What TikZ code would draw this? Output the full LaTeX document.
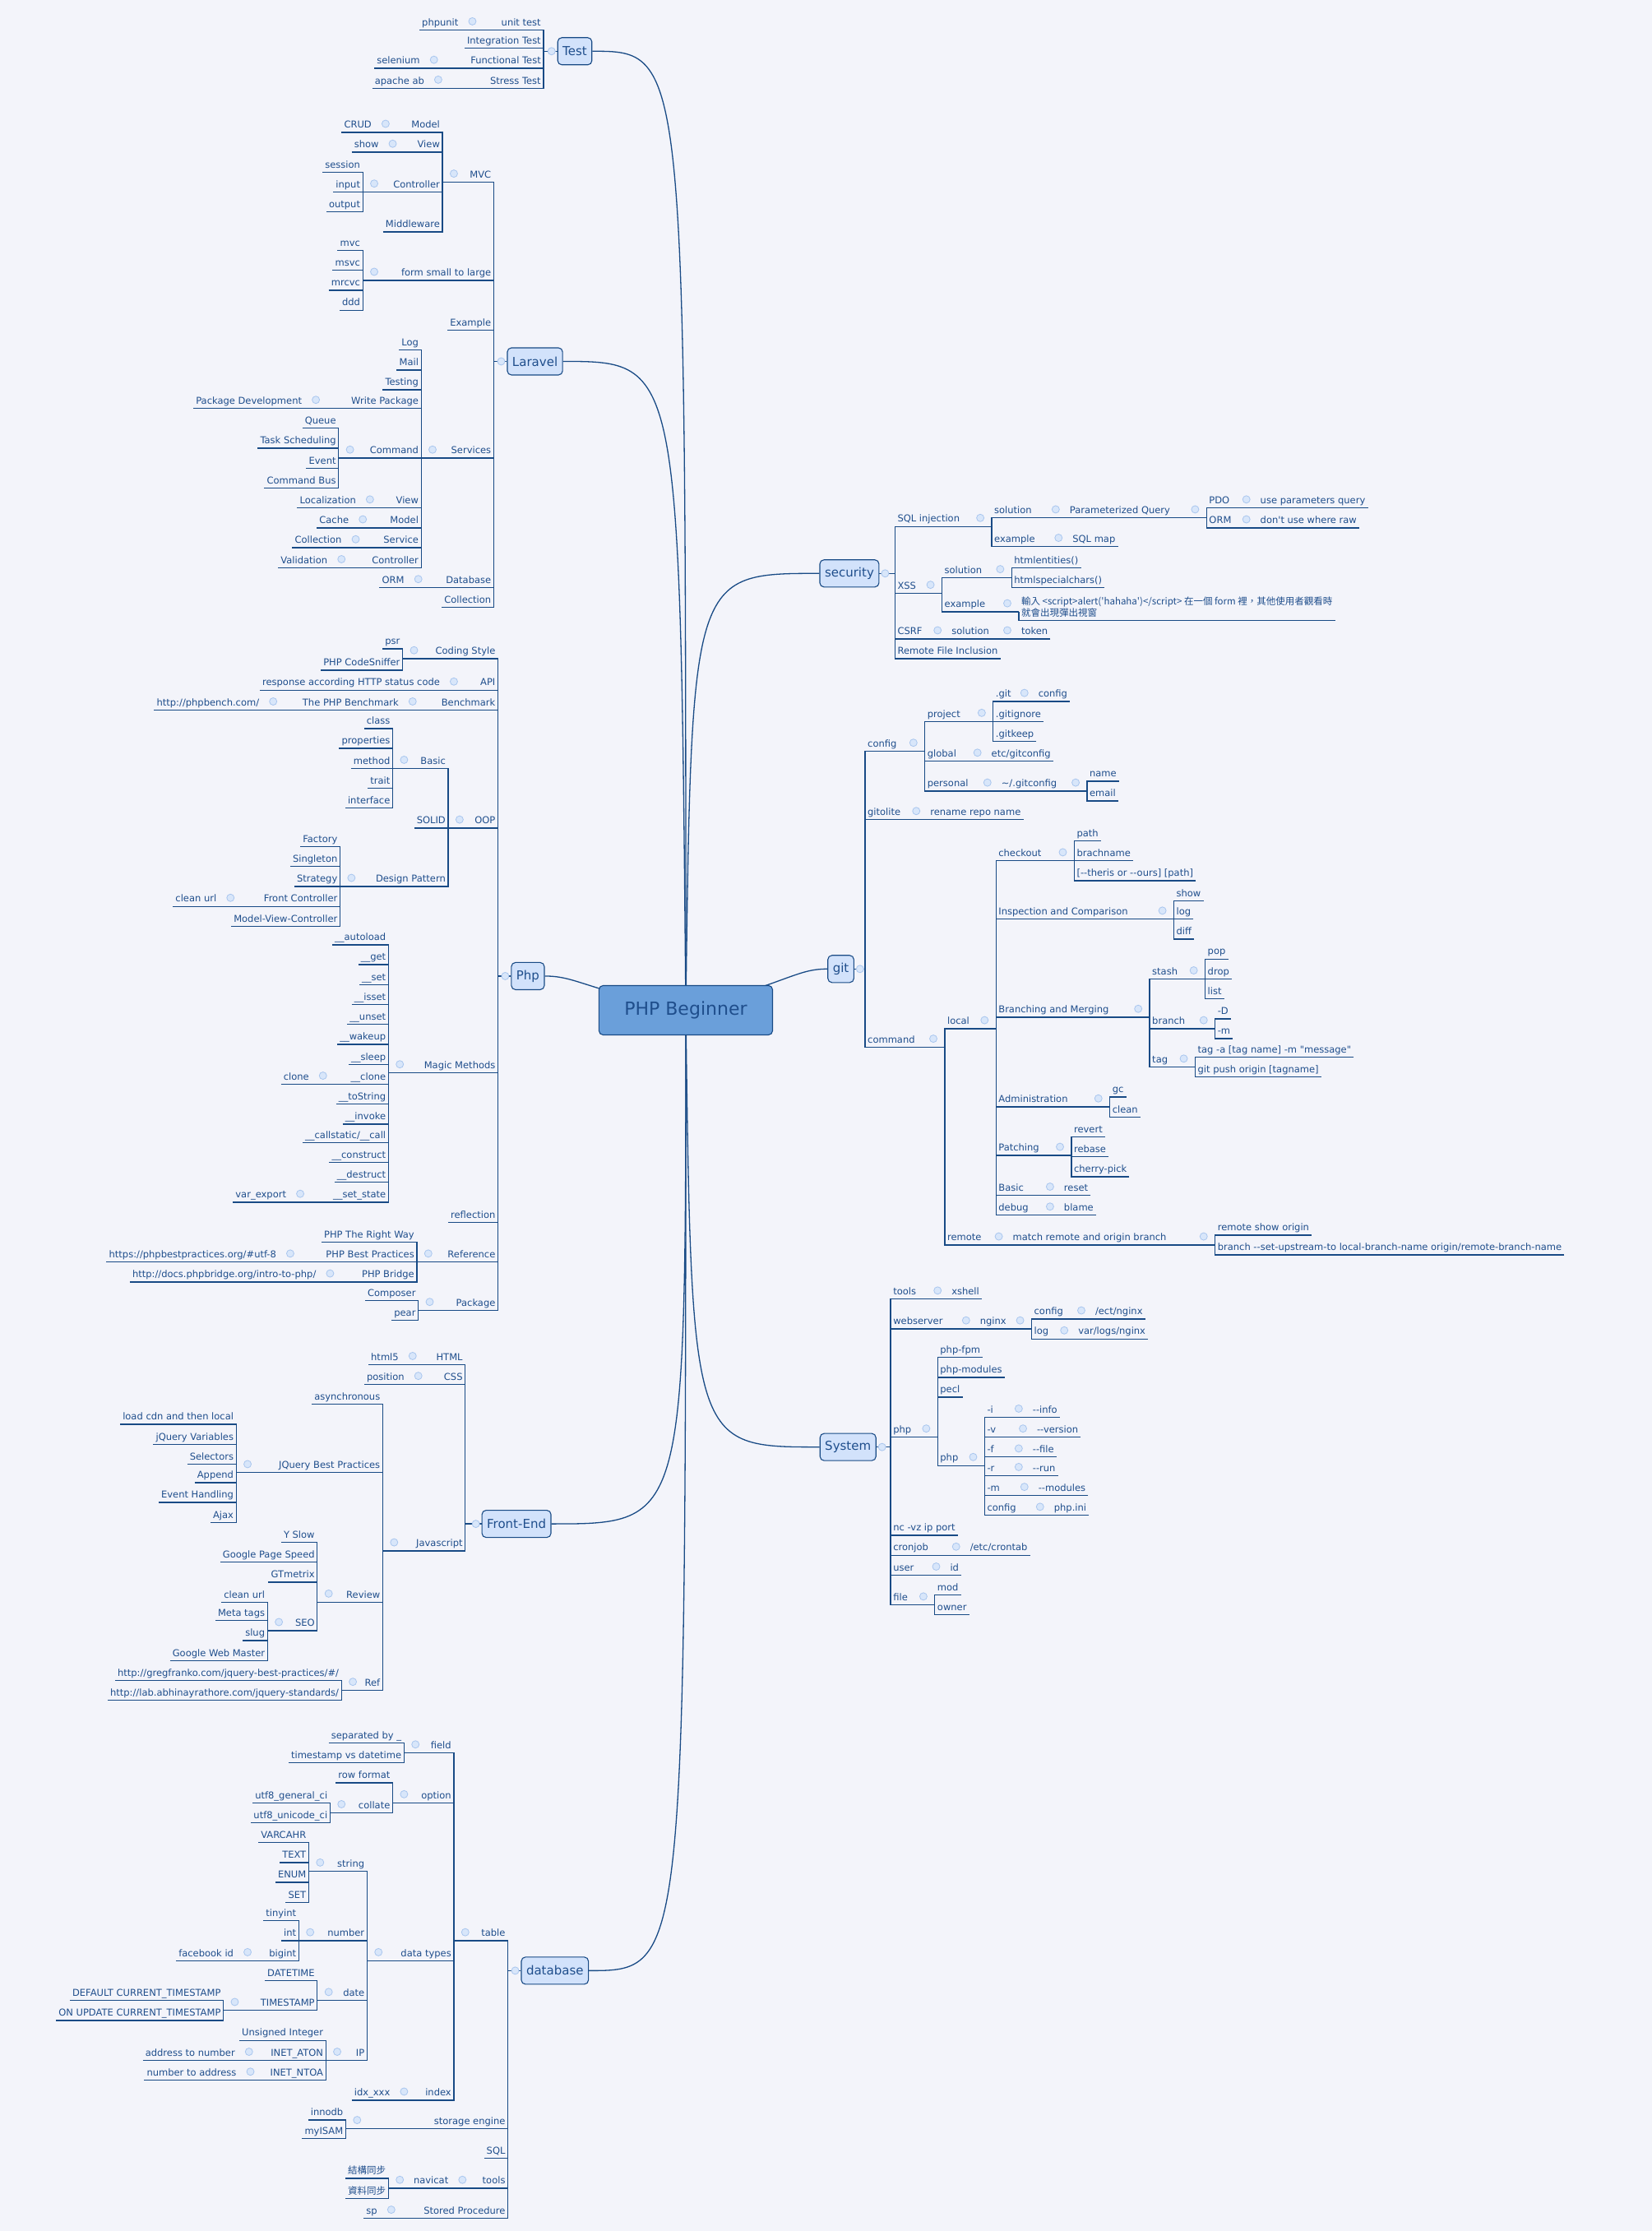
\documentclass[tikz,border=0pt]{standalone}
\usepackage{fontspec}
\newfontfamily\djv{DejaVu Sans}
\newfontfamily\cjk{Noto Sans CJK TC}
\definecolor{lc}{HTML}{184A85}
\definecolor{tx}{HTML}{1F4E8C}
\definecolor{bg}{HTML}{F3F4FA}
\definecolor{bf}{HTML}{D2E2FB}
\definecolor{cf}{HTML}{6A9FDA}
\definecolor{kf}{HTML}{D8E6FA}
\definecolor{kd}{HTML}{A9C6EE}
\tikzset{
 ln/.style={draw=lc,line width=1.3pt},
 leaf/.style={font=\djv\fontsize{11.5}{14}\selectfont,text=tx,inner xsep=3pt,inner ysep=0pt,text height=9pt,text depth=5pt},
 circ/.style={circle,draw=kd,fill=kf,minimum size=9pt,inner sep=0pt,line width=0.8pt},
 br/.style={draw=lc,fill=bf,rounded corners=5pt,line width=1.1pt,font=\djv\fontsize{15}{17}\selectfont,text=tx,minimum height=33pt,inner xsep=6pt},
}
\newcommand\LN[5]{%
 \edef\px{\csname xs@#2\endcsname}%
 \node[leaf,anchor=south east] (#1) at (\px,#3+6) {#5};
 \draw[ln] (#1.south west) -- (#1.south east) -- (#2-s);
 \if\relax\detokenize{#4}\relax\else
  \expandafter\gdef\csname xs@#1\endcsname{#4}%
  \coordinate (#1-s) at (#4,#3+6);
  \draw[ln] (#1-s) -- (#1.south east);
  \node[circ] at (#4+8,#3) {};
 \fi}
\newcommand\RN[5]{%
 \edef\px{\csname xs@#2\endcsname}%
 \node[leaf,anchor=south west,align=left] (#1) at (\px,#3+6) {#5};
 \draw[ln] (#1.south east) -- (#1.south west) -- (#2-s);
 \if\relax\detokenize{#4}\relax\else
  \expandafter\gdef\csname xs@#1\endcsname{#4}%
  \coordinate (#1-s) at (#4,#3+6);
  \draw[ln] (#1-s) -- (#1.south west);
  \node[circ] at (#4-8,#3) {};
 \fi}
\newcommand\BL[5]{%
 \node[br] (#1) at (#2,#3) {#5};
 \expandafter\gdef\csname xs@#1\endcsname{#4}%
 \coordinate (#1-s) at (#4,#3);
 \draw[ln] (#1-s) -- (#1.west);
 \node[circ] at ($(#1.west)+(-4,0)$) {};}
\newcommand\BR[5]{%
 \node[br] (#1) at (#2,#3) {#5};
 \expandafter\gdef\csname xs@#1\endcsname{#4}%
 \coordinate (#1-s) at (#4,#3);
 \draw[ln] (#1-s) -- (#1.east);
 \node[circ] at ($(#1.east)+(4,0)$) {};}
\usetikzlibrary{calc}
\begin{document}
\begin{tikzpicture}[x=1.7295pt,y=-1.7295pt]
\fill[bg] (0,0) rectangle (1161,1568);
\useasboundingbox (0,0) rectangle (1161,1568);
\BL{te}{404}{36}{382}{Test}
\BL{la}{376}{254}{347}{Laravel}
\BL{ph}{371}{686}{350}{Php}
\BL{fe}{363}{1071}{327}{Front-End}
\BL{db}{390}{1385}{357}{database}
\BR{se}{597}{403}{629}{security}
\BR{gi}{591}{681}{608}{git}
\BR{sy}{596}{1017}{626}{System}
\coordinate (c0) at (482,710);
\draw[ln] (c0) .. controls (482,36) .. (te.east);
\draw[ln] (c0) .. controls (478,254) .. (la.east);
\draw[ln] (c0) .. controls (482,1071) .. (fe.east);
\draw[ln] (c0) .. controls (482,1385) .. (db.east);
\draw[ln] (c0) .. controls (486,403) .. (se.west);
\draw[ln] (c0) .. controls (486,1017) .. (sy.west);
\draw[ln] (c0) .. controls (410,695) and (405,686) .. (ph.east);
\draw[ln] (c0) .. controls (555,690) and (560,681) .. (gi.west);
\node[draw=lc,fill=cf,rounded corners=5pt,line width=1.1pt,minimum width=211pt,minimum height=60pt,font=\djv\fontsize{22}{24}\selectfont,text=tx] (center) at (482,710) {PHP Beginner};
% Test
\LN{te1}{te}{15}{324}{unit test}
\LN{te1a}{te1}{15}{}{phpunit}
\LN{te2}{te}{28}{}{Integration Test}
\LN{te3}{te}{42}{297}{Functional Test}
\LN{te3a}{te3}{42}{}{selenium}
\LN{te4}{te}{56}{300}{Stress Test}
\LN{te4a}{te4}{56}{}{apache ab}
% Laravel
\LN{la1}{la}{122}{311}{MVC}
\LN{la11}{la1}{87}{263}{Model}
\LN{la111}{la11}{87}{}{CRUD}
\LN{la12}{la1}{101}{268}{View}
\LN{la121}{la12}{101}{}{show}
\LN{la13}{la1}{129}{255}{Controller}
\LN{la131}{la13}{115}{}{session}
\LN{la132}{la13}{129}{}{input}
\LN{la133}{la13}{143}{}{output}
\LN{la14}{la1}{157}{}{Middleware}
\LN{la2}{la}{191}{255}{form small to large}
\LN{la21}{la2}{170}{}{mvc}
\LN{la22}{la2}{184}{}{msvc}
\LN{la23}{la2}{198}{}{mrcvc}
\LN{la24}{la2}{212}{}{ddd}
\LN{la3}{la}{226}{}{Example}
\LN{la4}{la}{316}{296}{Services}
\LN{la41}{la4}{240}{}{Log}
\LN{la42}{la4}{254}{}{Mail}
\LN{la43}{la4}{268}{}{Testing}
\LN{la44}{la4}{281}{214}{Write Package}
\LN{la441}{la44}{281}{}{Package Development}
\LN{la45}{la4}{316}{238}{Command}
\LN{la451}{la45}{295}{}{Queue}
\LN{la452}{la45}{309}{}{Task Scheduling}
\LN{la453}{la45}{323}{}{Event}
\LN{la454}{la45}{337}{}{Command Bus}
\LN{la46}{la4}{351}{252}{View}
\LN{la461}{la46}{351}{}{Localization}
\LN{la47}{la4}{365}{247}{Model}
\LN{la471}{la47}{365}{}{Cache}
\LN{la48}{la4}{379}{242}{Service}
\LN{la481}{la48}{379}{}{Collection}
\LN{la49}{la4}{393}{232}{Controller}
\LN{la491}{la49}{393}{}{Validation}
\LN{la5}{la}{407}{286}{Database}
\LN{la51}{la5}{407}{}{ORM}
\LN{la6}{la}{421}{}{Collection}
% Php
\LN{ph1}{ph}{457}{283}{Coding Style}
\LN{ph11}{ph1}{450}{}{psr}
\LN{ph12}{ph1}{465}{}{PHP CodeSniffer}
\LN{ph2}{ph}{479}{311}{API}
\LN{ph21}{ph2}{479}{}{response according HTTP status code}
\LN{ph3}{ph}{493}{282}{Benchmark}
\LN{ph31}{ph3}{493}{184}{The PHP Benchmark}
\LN{ph311}{ph31}{493}{}{http://phpbench.com/}
\LN{ph4}{ph}{576}{315}{OOP}
\LN{ph41}{ph4}{534}{276}{Basic}
\LN{ph411}{ph41}{506}{}{class}
\LN{ph412}{ph41}{520}{}{properties}
\LN{ph413}{ph41}{534}{}{method}
\LN{ph414}{ph41}{548}{}{trait}
\LN{ph415}{ph41}{562}{}{interface}
\LN{ph42}{ph4}{576}{}{SOLID}
\LN{ph43}{ph4}{617}{239}{Design Pattern}
\LN{ph431}{ph43}{589}{}{Factory}
\LN{ph432}{ph43}{603}{}{Singleton}
\LN{ph433}{ph43}{617}{}{Strategy}
\LN{ph434}{ph43}{631}{154}{Front Controller}
\LN{ph4341}{ph434}{631}{}{clean url}
\LN{ph435}{ph43}{645}{}{Model-View-Controller}
\LN{ph5}{ph}{748}{273}{Magic Methods}
\LN{ph51}{ph5}{658}{}{\_\_autoload}
\LN{ph52}{ph5}{672}{}{\_\_get}
\LN{ph53}{ph5}{686}{}{\_\_set}
\LN{ph54}{ph5}{700}{}{\_\_isset}
\LN{ph55}{ph5}{714}{}{\_\_unset}
\LN{ph56}{ph5}{728}{}{\_\_wakeup}
\LN{ph57}{ph5}{742}{}{\_\_sleep}
\LN{ph58}{ph5}{756}{219}{\_\_clone}
\LN{ph581}{ph58}{756}{}{clone}
\LN{ph59}{ph5}{770}{}{\_\_toString}
\LN{ph510}{ph5}{784}{}{\_\_invoke}
\LN{ph511}{ph5}{797}{}{\_\_callstatic/\_\_call}
\LN{ph512}{ph5}{811}{}{\_\_construct}
\LN{ph513}{ph5}{825}{}{\_\_destruct}
\LN{ph514}{ph5}{839}{203}{\_\_set\_state}
\LN{ph5141}{ph514}{839}{}{var\_export}
\LN{ph6}{ph}{853}{}{reflection}
\LN{ph7}{ph}{881}{293}{Reference}
\LN{ph71}{ph7}{867}{}{PHP The Right Way}
\LN{ph72}{ph7}{881}{196}{PHP Best Practices}
\LN{ph721}{ph72}{881}{}{https://phpbestpractices.org/\#utf-8}
\LN{ph73}{ph7}{895}{224}{PHP Bridge}
\LN{ph731}{ph73}{895}{}{http://docs.phpbridge.org/intro-to-php/}
\LN{ph8}{ph}{915}{294}{Package}
\LN{ph81}{ph8}{908}{}{Composer}
\LN{ph82}{ph8}{922}{}{pear}
% Front-End
\LN{fe1}{fe}{953}{282}{HTML}
\LN{fe11}{fe1}{953}{}{html5}
\LN{fe2}{fe}{967}{286}{CSS}
\LN{fe21}{fe2}{967}{}{position}
\LN{fe3}{fe}{1084}{269}{Javascript}
\LN{fe31}{fe3}{981}{}{asynchronous}
\LN{fe32}{fe3}{1029}{166}{JQuery Best Practices}
\LN{fe321}{fe32}{995}{}{load cdn and then local}
\LN{fe322}{fe32}{1009}{}{jQuery Variables}
\LN{fe323}{fe32}{1023}{}{Selectors}
\LN{fe324}{fe32}{1036}{}{Append}
\LN{fe325}{fe32}{1050}{}{Event Handling}
\LN{fe326}{fe32}{1064}{}{Ajax}
\LN{fe33}{fe3}{1120}{223}{Review}
\LN{fe331}{fe33}{1078}{}{Y Slow}
\LN{fe332}{fe33}{1092}{}{Google Page Speed}
\LN{fe333}{fe33}{1106}{}{GTmetrix}
\LN{fe334}{fe33}{1140}{188}{SEO}
\LN{fe3341}{fe334}{1120}{}{clean url}
\LN{fe3342}{fe334}{1133}{}{Meta tags}
\LN{fe3343}{fe334}{1147}{}{slug}
\LN{fe3344}{fe334}{1161}{}{Google Web Master}
\LN{fe34}{fe3}{1182}{240}{Ref}
\LN{fe341}{fe34}{1175}{}{http://gregfranko.com/jquery-best-practices/\#/}
\LN{fe342}{fe34}{1189}{}{http://lab.abhinayrathore.com/jquery-standards/}
% database
\LN{db1}{db}{1358}{319}{table}
\LN{db11}{db1}{1226}{284}{field}
\LN{db111}{db11}{1219}{}{separated by \_}
\LN{db112}{db11}{1233}{}{timestamp vs datetime}
\LN{db12}{db1}{1261}{276}{option}
\LN{db121}{db12}{1247}{}{row format}
\LN{db122}{db12}{1268}{232}{collate}
\LN{db1221}{db122}{1261}{}{utf8\_general\_ci}
\LN{db1222}{db122}{1275}{}{utf8\_unicode\_ci}
\LN{db13}{db1}{1372}{258}{data types}
\LN{db131}{db13}{1309}{217}{string}
\LN{db1311}{db131}{1289}{}{VARCAHR}
\LN{db1312}{db131}{1303}{}{TEXT}
\LN{db1313}{db131}{1317}{}{ENUM}
\LN{db1314}{db131}{1331}{}{SET}
\LN{db132}{db13}{1358}{210}{number}
\LN{db1321}{db132}{1344}{}{tinyint}
\LN{db1322}{db132}{1358}{}{int}
\LN{db1323}{db132}{1372}{166}{bigint}
\LN{db13231}{db1323}{1372}{}{facebook id}
\LN{db133}{db13}{1400}{223}{date}
\LN{db1331}{db133}{1386}{}{DATETIME}
\LN{db1332}{db133}{1407}{157}{TIMESTAMP}
\LN{db13321}{db1332}{1400}{}{DEFAULT CURRENT\_TIMESTAMP}
\LN{db13322}{db1332}{1414}{}{ON UPDATE CURRENT\_TIMESTAMP}
\LN{db134}{db13}{1442}{229}{IP}
\LN{db1341}{db134}{1428}{}{Unsigned Integer}
\LN{db1342}{db134}{1442}{167}{INET\_ATON}
\LN{db13421}{db1342}{1442}{}{address to number}
\LN{db1343}{db134}{1456}{168}{INET\_NTOA}
\LN{db13431}{db1343}{1456}{}{number to address}
\LN{db14}{db1}{1470}{276}{index}
\LN{db141}{db14}{1470}{}{idx\_xxx}
\LN{db2}{db}{1490}{243}{storage engine}
\LN{db21}{db2}{1484}{}{innodb}
\LN{db22}{db2}{1497}{}{myISAM}
\LN{db3}{db}{1511}{}{SQL}
\LN{db4}{db}{1532}{317}{tools}
\LN{db41}{db4}{1532}{273}{navicat}
\LN{db411}{db41}{1525}{}{\cjk 結構同步}
\LN{db412}{db41}{1539}{}{\cjk 資料同步}
\LN{db5}{db}{1553}{267}{Stored Procedure}
\LN{db51}{db5}{1553}{}{sp}
% security
\RN{se1}{se}{364}{697}{SQL injection}
\RN{se11}{se1}{358}{750}{solution}
\RN{se111}{se11}{358}{848}{Parameterized Query}
\RN{se1111}{se111}{351}{884}{PDO}
\RN{se11111}{se1111}{351}{}{use parameters query}
\RN{se1112}{se111}{365}{884}{ORM}
\RN{se11121}{se1112}{365}{}{don't use where raw}
\RN{se12}{se1}{378}{752}{example}
\RN{se121}{se12}{378}{}{SQL map}
\RN{se2}{se}{411}{662}{XSS}
\RN{se21}{se2}{400}{711}{solution}
\RN{se211}{se21}{393}{}{htmlentities()}
\RN{se212}{se21}{407}{}{htmlspecialchars()}
\RN{se22}{se2}{424}{716}{example}
\RN{se221}{se22}{430}{}{\cjk 輸入 <script>alert('hahaha')</script> 在一個 form 裡，其他使用者觀看時\\\cjk 就會出現彈出視窗}
\RN{se3}{se}{443}{667}{CSRF}
\RN{se31}{se3}{443}{716}{solution}
\RN{se311}{se31}{443}{}{token}
\RN{se4}{se}{457}{}{Remote File Inclusion}
% git
\RN{gi1}{gi}{522}{650}{config}
\RN{gi11}{gi1}{501}{698}{project}
\RN{gi111}{gi11}{487}{728}{.git}
\RN{gi1111}{gi111}{487}{}{config}
\RN{gi112}{gi11}{501}{}{.gitignore}
\RN{gi113}{gi11}{515}{}{.gitkeep}
\RN{gi12}{gi1}{529}{695}{global}
\RN{gi121}{gi12}{529}{}{etc/gitconfig}
\RN{gi13}{gi1}{550}{702}{personal}
\RN{gi131}{gi13}{550}{764}{\textasciitilde/.gitconfig}
\RN{gi1311}{gi131}{543}{}{name}
\RN{gi1312}{gi131}{557}{}{email}
\RN{gi2}{gi}{570}{652}{gitolite}
\RN{gi21}{gi2}{570}{}{rename repo name}
\RN{gi3}{gi}{730}{664}{command}
\RN{gi31}{gi3}{717}{700}{local}
\RN{gi311}{gi31}{599}{755}{checkout}
\RN{gi3111}{gi311}{585}{}{path}
\RN{gi3112}{gi311}{599}{}{brachname}
\RN{gi3113}{gi311}{613}{}{[--theris or --ours] [path]}
\RN{gi312}{gi31}{640}{825}{Inspection and Comparison}
\RN{gi3121}{gi312}{627}{}{show}
\RN{gi3122}{gi312}{640}{}{log}
\RN{gi3123}{gi312}{654}{}{diff}
\RN{gi313}{gi31}{709}{808}{Branching and Merging}
\RN{gi3131}{gi313}{682}{847}{stash}
\RN{gi31311}{gi3131}{668}{}{pop}
\RN{gi31312}{gi3131}{682}{}{drop}
\RN{gi31313}{gi3131}{696}{}{list}
\RN{gi3132}{gi313}{717}{854}{branch}
\RN{gi31321}{gi3132}{710}{}{-D}
\RN{gi31322}{gi3132}{724}{}{-m}
\RN{gi3133}{gi313}{744}{840}{tag}
\RN{gi31331}{gi3133}{737}{}{tag -a [tag name] -m "message"}
\RN{gi31332}{gi3133}{751}{}{git push origin [tagname]}
\RN{gi314}{gi31}{772}{780}{Administration}
\RN{gi3141}{gi314}{765}{}{gc}
\RN{gi3142}{gi314}{779}{}{clean}
\RN{gi315}{gi31}{806}{753}{Patching}
\RN{gi3151}{gi315}{793}{}{revert}
\RN{gi3152}{gi315}{807}{}{rebase}
\RN{gi3153}{gi315}{821}{}{cherry-pick}
\RN{gi316}{gi31}{834}{746}{Basic}
\RN{gi3161}{gi316}{834}{}{reset}
\RN{gi317}{gi31}{848}{746}{debug}
\RN{gi3171}{gi317}{848}{}{blame}
\RN{gi32}{gi3}{869}{710}{remote}
\RN{gi321}{gi32}{869}{854}{match remote and origin branch}
\RN{gi3211}{gi321}{862}{}{remote show origin}
\RN{gi3212}{gi321}{876}{}{branch --set-upstream-to local-branch-name origin/remote-branch-name}
% System
\RN{sy1}{sy}{907}{667}{tools}
\RN{sy11}{sy1}{907}{}{xshell}
\RN{sy2}{sy}{928}{687}{webserver}
\RN{sy21}{sy2}{928}{725}{nginx}
\RN{sy211}{sy21}{921}{768}{config}
\RN{sy2111}{sy211}{921}{}{/ect/nginx}
\RN{sy212}{sy21}{935}{756}{log}
\RN{sy2121}{sy212}{935}{}{var/logs/nginx}
\RN{sy3}{sy}{1004}{659}{php}
\RN{sy31}{sy3}{948}{}{php-fpm}
\RN{sy32}{sy3}{962}{}{php-modules}
\RN{sy33}{sy3}{976}{}{pecl}
\RN{sy34}{sy3}{1024}{692}{php}
\RN{sy341}{sy34}{990}{724}{-i}
\RN{sy3411}{sy341}{990}{}{--info}
\RN{sy342}{sy34}{1004}{727}{-v}
\RN{sy3421}{sy342}{1004}{}{--version}
\RN{sy343}{sy34}{1018}{724}{-f}
\RN{sy3431}{sy343}{1018}{}{--file}
\RN{sy344}{sy34}{1031}{724}{-r}
\RN{sy3441}{sy344}{1031}{}{--run}
\RN{sy345}{sy34}{1045}{728}{-m}
\RN{sy3451}{sy345}{1045}{}{--modules}
\RN{sy346}{sy34}{1059}{739}{config}
\RN{sy3461}{sy346}{1059}{}{php.ini}
\RN{sy4}{sy}{1073}{}{nc -vz ip port}
\RN{sy5}{sy}{1087}{680}{cronjob}
\RN{sy51}{sy5}{1087}{}{/etc/crontab}
\RN{sy6}{sy}{1101}{666}{user}
\RN{sy61}{sy6}{1101}{}{id}
\RN{sy7}{sy}{1122}{657}{file}
\RN{sy71}{sy7}{1115}{}{mod}
\RN{sy72}{sy7}{1129}{}{owner}
\end{tikzpicture}
\end{document}
